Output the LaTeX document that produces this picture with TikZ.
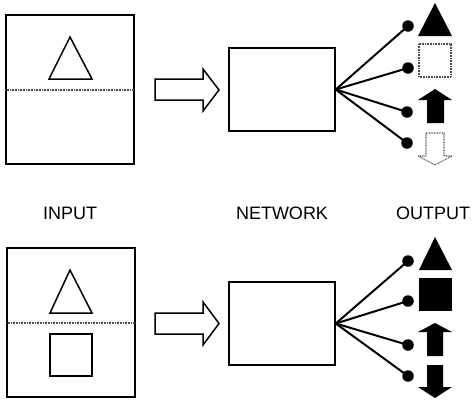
\documentclass[tikz,border=0pt]{standalone}
\usepackage{fontspec}
\setmainfont{Liberation Sans}
\begin{document}
\begin{tikzpicture}[x=1pt,y=-1pt,
  frame/.style={draw,line width=1.5pt,inner sep=0pt},
  dotline/.style={draw=black!70,line width=1.1pt,dash pattern=on 0.8pt off 0.8pt},
  link/.style={line width=2pt},
  dot/.style={circle,fill=black,inner sep=0pt,minimum size=11.5pt},
  lbl/.style={font=\fontsize{18}{21}\selectfont},
  blockarrow/.style={draw,line width=1.5pt,fill=white}]
\useasboundingbox (0,0) rectangle (474,402);
% ---------- top row ----------
\node[frame,minimum width=128pt,minimum height=149pt] (in1) at (70,89.5) {};
\draw[dotline] (in1.west |- 0,90) -- (in1.east |- 0,90);
\draw[line width=1.5pt] (70,37) -- (92,79) -- (49,79) -- cycle;
\draw[blockarrow] (155,79) -- (203,79) -- (203,69) -- (219,90) -- (203,111) -- (203,100) -- (155,100) -- cycle;
\node[frame,minimum width=106pt,minimum height=83pt] (net1) at (282,89.5) {};
\node[dot] (a1) at (408,26) {};
\node[dot] (a2) at (408,68) {};
\node[dot] (a3) at (407,112) {};
\node[dot] (a4) at (407,143) {};
\foreach \d in {a1,a2,a3,a4} \draw[link] (net1.east) -- (\d.center);
% outputs top
\fill (435,3) -- (452,36) -- (418,36) -- cycle;
\draw[dotline] (419,44) rectangle (451,77);
\fill (435,89) -- (452,100) -- (444,100) -- (444,123) -- (427,123) -- (427,100) -- (418,100) -- cycle;
\draw[dotline] (426,133) -- (444,133) -- (444,156) -- (452,156) -- (435,165) -- (418,156) -- (426,156) -- cycle;
% ---------- labels ----------
\node[lbl] (lin) at (70,213) {INPUT};
\node[lbl] (lnet) at (282,213) {NETWORK};
\node[lbl] (lout) at (433,213) {OUTPUT};
% ---------- bottom row ----------
\node[frame,minimum width=128pt,minimum height=149pt] (in2) at (71,322.5) {};
\draw[dotline] (in2.west |- 0,323) -- (in2.east |- 0,323);
\draw[line width=1.5pt] (70,270) -- (92,313) -- (50,313) -- cycle;
\draw[line width=1.5pt] (50,334) rectangle (92,376);
\draw[blockarrow] (155,313) -- (203,313) -- (203,302) -- (219,323.5) -- (203,345) -- (203,334) -- (155,334) -- cycle;
\node[frame,minimum width=106pt,minimum height=83pt] (net2) at (282,323.5) {};
\node[dot] (b1) at (408,261) {};
\node[dot] (b2) at (408,301) {};
\node[dot] (b3) at (408,345) {};
\node[dot] (b4) at (408,376) {};
\foreach \d in {b1,b2,b3,b4} \draw[link] (net2.east) -- (\d.center);
% outputs bottom
\fill (435,237) -- (452,270) -- (419,270) -- cycle;
\fill (419,278) rectangle (452,311);
\fill (435,323) -- (452,332) -- (443,332) -- (443,356) -- (427,356) -- (427,332) -- (418,332) -- cycle;
\fill (427,365) -- (443,365) -- (443,387) -- (452,387) -- (435,398) -- (418,387) -- (427,387) -- cycle;
\end{tikzpicture}
\end{document}
